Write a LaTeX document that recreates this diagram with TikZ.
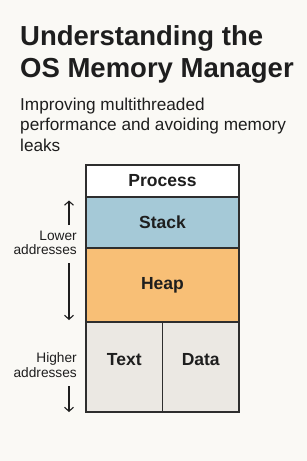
\documentclass[tikz,border=0pt]{standalone}
\usepackage{fontspec}
\setmainfont{Liberation Sans}
\usetikzlibrary{arrows.meta}
\definecolor{paper}{HTML}{FAF9F5}
\definecolor{ink}{HTML}{1E1E1E}
\definecolor{edge}{HTML}{2E2E2E}
\definecolor{stackblue}{HTML}{A5C9D7}
\definecolor{heaporange}{HTML}{F8BF76}
\definecolor{segray}{HTML}{EBE8E3}
\tikzset{
  seg/.style={draw=edge, line width=1.6pt, rectangle, inner sep=0pt,
    font=\bfseries\fontsize{17.5}{20}\selectfont, text=ink},
  headline/.style={anchor=base west, inner sep=0pt, text=ink,
    font=\bfseries\fontsize{27.5}{31}\selectfont},
  subline/.style={anchor=base west, inner sep=0pt, text=ink,
    font=\fontsize{17.2}{20}\selectfont},
  side/.style={anchor=east, align=right, inner sep=0pt, text=ink,
    font=\fontsize{13.7}{14.5}\selectfont},
  dir/.style={draw=ink, line width=1.1pt, -{Straight Barb[length=4pt,width=9pt]}}
}
\begin{document}
\begin{tikzpicture}[x=1pt,y=-1pt]
\useasboundingbox[fill=paper] (0,0) rectangle (307,461);

% title and subtitle
\node[headline] (title1) at (20,45.5) {Understanding the};
\node[headline] (title2) at (20,77) {OS Memory Manager};
\node[subline] (sub1) at (20,110) {Improving multithreaded};
\node[subline] (sub2) at (20,130.5) {performance and avoiding memory};
\node[subline] (sub3) at (20,151) {leaks};

% memory layout
\node[seg, fill=white, minimum width=153pt, minimum height=32pt] (process) at (162.5,181) {Process};
\node[seg, fill=stackblue, minimum width=153pt, minimum height=51pt] (stack) at (162.5,222.5) {Stack};
\node[seg, fill=heaporange, minimum width=153pt, minimum height=74pt] (heap) at (162.5,285) {Heap};
\node[seg, fill=segray, minimum width=76.5pt, minimum height=90pt] (text) at (124.25,367) {};
\node[seg, fill=segray, minimum width=76.5pt, minimum height=90pt] (data) at (200.75,367) {};
\node[seg, draw=none] (textlbl) at ([yshift=7pt]text.center) {Text};
\node[seg, draw=none] (datalbl) at ([yshift=7pt]data.center) {Data};

% address direction
\node[side] (lower) at (77,243) {Lower\\addresses};
\node[side] (higher) at (77,365) {Higher\\addresses};
\coordinate (uptip) at (69,200.5);
\coordinate (downtip) at (69,320);
\coordinate (endtip) at (69,412);
\draw[dir] (69,225) -- (uptip);
\draw[dir] (69,263) -- (downtip);
\draw[dir] (69,386) -- (endtip);
\end{tikzpicture}
\end{document}
